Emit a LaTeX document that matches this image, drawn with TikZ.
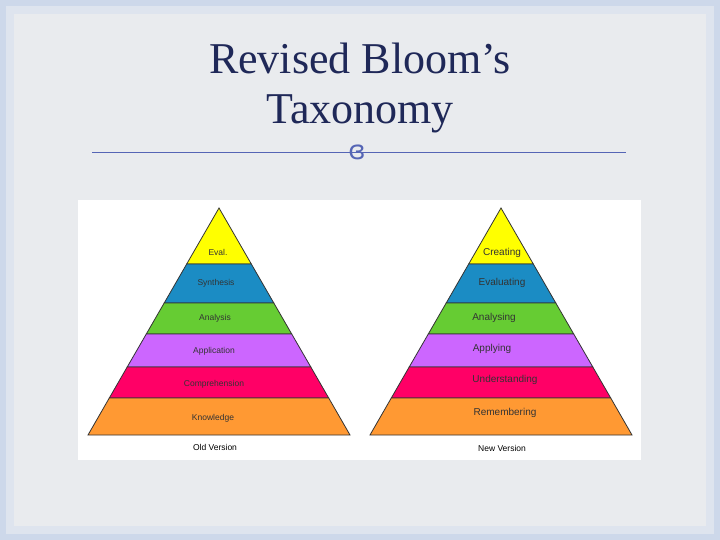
\documentclass[tikz,border=0pt]{standalone}
\usepackage{fontspec}
\setmainfont{Liberation Serif}
\setsansfont{Liberation Sans}
\newfontfamily\dv{DejaVu Sans}
\definecolor{cY}{HTML}{FFFF00}
\definecolor{cB}{HTML}{1B8CC4}
\definecolor{cG}{HTML}{66CC33}
\definecolor{cP}{HTML}{CC66FF}
\definecolor{cR}{HTML}{FF0066}
\definecolor{cO}{HTML}{FF9933}
\definecolor{ttl}{HTML}{1F2858}
\definecolor{rule}{HTML}{5565B5}
\begin{document}
\begin{tikzpicture}[x=1pt,y=-1pt,
  lay/.style={draw=black!80,line width=0.8pt},
  lbl/.style={font=\sffamily\fontsize{8.5}{9}\selectfont,text=black!80},
  rlbl/.style={font=\sffamily\fontsize{10}{11}\selectfont,text=black!80},
  vcap/.style={font=\sffamily\fontsize{8.5}{9}\selectfont,text=black}]
\useasboundingbox (0,0) rectangle (720,540);
\fill[fill={rgb,255:red,205;green,216;blue,234}] (0,0) rectangle (720,540);
\fill[fill={rgb,255:red,222;green,228;blue,238}] (6,6) rectangle (714,534);
\fill[fill={rgb,255:red,233;green,235;blue,238}] (14,14) rectangle (706,526);
\node[font=\fontsize{44}{50}\selectfont,text=ttl,align=center] (title) at (360,88) {Revised Bloom’s\\Taxonomy};
\draw[rule,line width=0.8pt] (92,152) coordinate (r1) -- (626,152) coordinate (r2);
\node[text=rule,font=\dv\fontsize{26}{26}\selectfont] (orn) at (357,152) {ɞ};
\fill[white] (78,200) rectangle (641,460);
\foreach \cx/\ls in {219/lbl,501/rlbl}{
  \fill[cY,lay] (\cx,208) -- (\cx+32.3,264) -- (\cx-32.3,264) -- cycle;
  \fill[cB,lay] (\cx-32.3,264) -- (\cx+32.3,264) -- (\cx+54.8,303) -- (\cx-54.8,303) -- cycle;
  \fill[cG,lay] (\cx-54.8,303) -- (\cx+54.8,303) -- (\cx+72.7,334) -- (\cx-72.7,334) -- cycle;
  \fill[cP,lay] (\cx-72.7,334) -- (\cx+72.7,334) -- (\cx+91.8,367) -- (\cx-91.8,367) -- cycle;
  \fill[cR,lay] (\cx-91.8,367) -- (\cx+91.8,367) -- (\cx+109.7,398) -- (\cx-109.7,398) -- cycle;
  \fill[cO,lay] (\cx-109.7,398) -- (\cx+109.7,398) -- (\cx+131,435) -- (\cx-131,435) -- cycle;
}
\node[lbl] (o1) at (218,252) {Eval.};
\node[lbl] (o2) at (216,283) {Synthesis};
\node[lbl] (o3) at (215,318) {Analysis};
\node[lbl] (o4) at (214,351) {Application};
\node[lbl] (o5) at (214,384) {Comprehension};
\node[lbl] (o6) at (213,418) {Knowledge};
\node[vcap] (oc) at (215,447) {Old Version};
\node[rlbl] (n1) at (502,253) {Creating};
\node[rlbl] (n2) at (502,283) {Evaluating};
\node[rlbl] (n3) at (494,318) {Analysing};
\node[rlbl] (n4) at (492,349) {Applying};
\node[rlbl] (n5) at (505,380) {Understanding};
\node[rlbl] (n6) at (505,413) {Remembering};
\node[vcap] (nc) at (502,448) {New Version};
\end{tikzpicture}
\end{document}
